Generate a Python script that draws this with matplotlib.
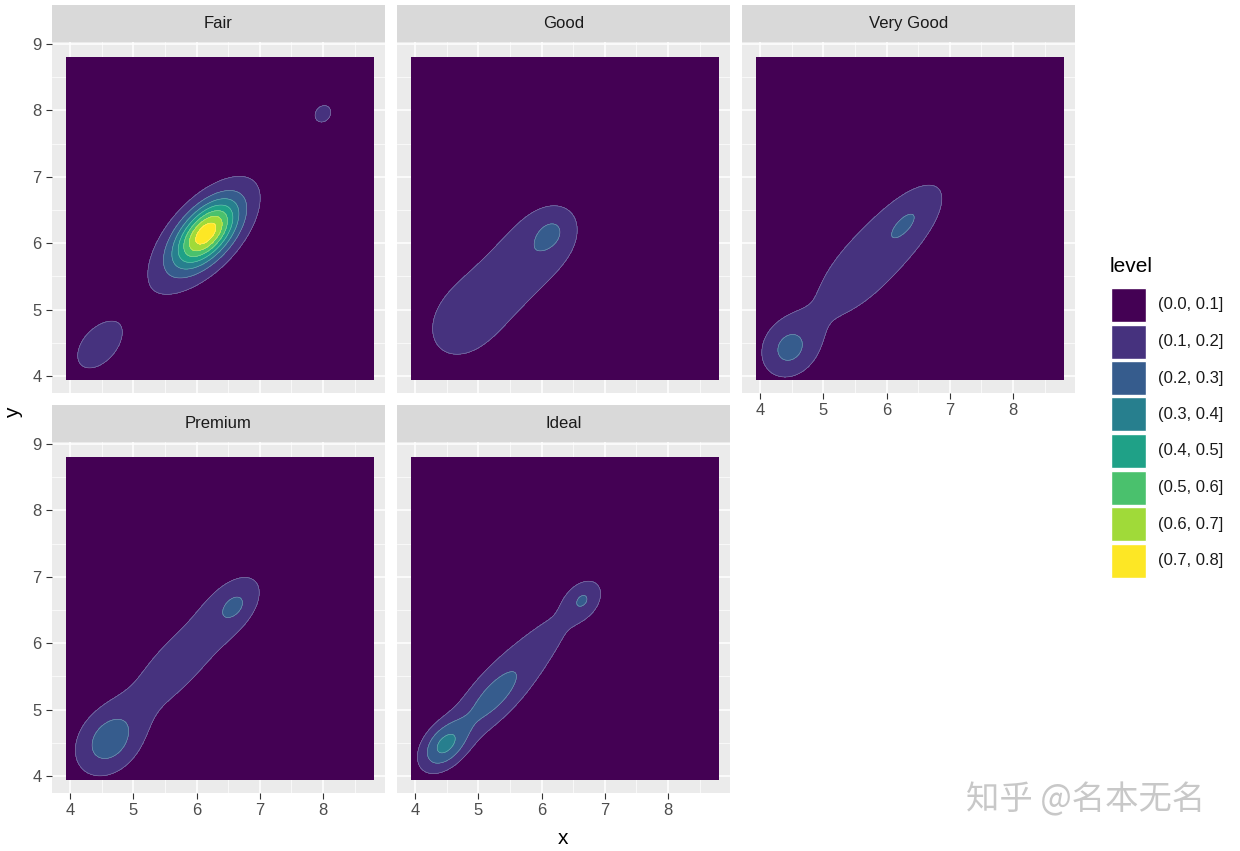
import numpy as np
import matplotlib
matplotlib.use("Agg")
import matplotlib.pyplot as plt
from matplotlib.patches import Rectangle
from matplotlib.ticker import MultipleLocator

plt.rcParams['font.family'] = ['Liberation Sans', 'DejaVu Sans', 'Noto Sans CJK SC']

cuts = ["Fair", "Good", "Very Good", "Premium", "Ideal"]
# density components per cut: centre x, centre y, sd along diagonal, sd across, peak height
comp_cx = {"Fair": [6.15, 6.1, 4.45, 8.0], "Good": [6.1, 6.15, 4.8, 5.5], "Very Good": [4.45, 6.35, 5.7],
           "Premium": [4.6, 6.6, 6.6, 5.7], "Ideal": [4.45, 5.2, 6.65, 5.8]}
comp_cy = {"Fair": [6.15, 6.1, 4.45, 7.95], "Good": [6.1, 6.15, 4.85, 5.5], "Very Good": [4.4, 6.35, 5.7],
           "Premium": [4.5, 6.6, 6.55, 5.7], "Ideal": [4.45, 5.15, 6.65, 5.8]}
comp_su = {"Fair": [0.4, 0.85, 0.4, 0.18], "Good": [0.55, 0.2, 0.6, 0.5], "Very Good": [0.32, 0.45, 1.3],
           "Premium": [0.4, 0.4, 0.15, 1.2], "Ideal": [0.3, 0.55, 0.2, 1.4]}
comp_sv = {"Fair": [0.22, 0.37, 0.25, 0.15], "Good": [0.45, 0.15, 0.45, 0.4], "Very Good": [0.28, 0.2, 0.5],
           "Premium": [0.32, 0.25, 0.1, 0.4], "Ideal": [0.2, 0.22, 0.15, 0.35]}
comp_amp = {"Fair": [0.55, 0.22, 0.16, 0.13], "Good": [0.14, 0.08, 0.16, 0.1], "Very Good": [0.18, 0.1, 0.14],
            "Premium": [0.2, 0.1, 0.06, 0.14], "Ideal": [0.26, 0.14, 0.13, 0.12]}
levels = [0.0, 0.1, 0.2, 0.3, 0.4, 0.5, 0.6, 0.7, 0.8]
level_labels = ["(0.0, 0.1]", "(0.1, 0.2]", "(0.2, 0.3]", "(0.3, 0.4]",
                "(0.4, 0.5]", "(0.5, 0.6]", "(0.6, 0.7]", "(0.7, 0.8]"]
ticks = [4, 5, 6, 7, 8, 9]

W, H = 1240, 851
fig = plt.figure(figsize=(W / 100, H / 100), dpi=100)
colors = plt.cm.viridis(np.linspace(0, 1, 8))

gx = np.linspace(3.95, 8.8, 300)
GX, GY = np.meshgrid(gx, gx)

panels = [(52, 5), (397, 5), (742, 5), (52, 405), (397, 405)]
pw, ph, sh = 333, 388, 37
for cut, (px, py) in zip(cuts, panels):
    sa = fig.add_axes([px / W, 1 - (py + sh) / H, pw / W, sh / H])
    sa.set_facecolor('#D9D9D9'); sa.set_xticks([]); sa.set_yticks([])
    for s in sa.spines.values(): s.set_visible(False)
    sa.text(0.5, 0.5, cut, ha='center', va='center', fontsize=12, color='#1A1A1A')
    ax = fig.add_axes([px / W, 1 - (py + ph) / H, pw / W, (ph - sh) / H])
    ax.set_facecolor('#EBEBEB')
    for s in ax.spines.values(): s.set_visible(False)
    ax.set_xlim(3.715, 8.98); ax.set_ylim(3.744, 9.03)
    ax.xaxis.set_major_locator(MultipleLocator(1)); ax.yaxis.set_major_locator(MultipleLocator(1))
    ax.xaxis.set_minor_locator(MultipleLocator(0.5)); ax.yaxis.set_minor_locator(MultipleLocator(0.5))
    ax.grid(True, which='major', color='white', lw=1.1)
    ax.grid(True, which='minor', color='white', lw=0.5)
    ax.set_axisbelow(True)
    Z = np.zeros_like(GX)
    for cx, cy, su, sv, a in zip(comp_cx[cut], comp_cy[cut], comp_su[cut], comp_sv[cut], comp_amp[cut]):
        u = ((GX - cx) + (GY - cy)) / np.sqrt(2)
        v = ((GY - cy) - (GX - cx)) / np.sqrt(2)
        Z += a * np.exp(-0.5 * ((u / su) ** 2 + (v / sv) ** 2))
    Z = np.clip(Z, 0.0001, 0.799)
    ax.contourf(GX, GY, Z, levels=levels, colors=colors, zorder=2)
    ax.contour(GX, GY, Z, levels=levels[1:-1], colors='white', linewidths=0.4, alpha=0.4, zorder=3)
    ax.tick_params(which='both', length=0)
    ax.tick_params(which='major', length=4, color='#333333', labelsize=12, labelcolor='#4D4D4D')
    ax.set_xticks(ticks[:-1]); ax.set_yticks(ticks)
    if px != 52:
        ax.set_yticklabels([]); ax.tick_params(axis='y', length=0)
    if cut in ("Fair", "Good"):
        ax.set_xticklabels([]); ax.tick_params(axis='x', length=0)

fig.text(563 / W, 1 - 838 / H, "x", ha='center', va='center', fontsize=15)
fig.text(14 / W, 1 - 413 / H, "y", ha='center', va='center', fontsize=15, rotation=90)

fig.text(1110 / W, 1 - 266 / H, "level", ha='left', va='center', fontsize=15)
for i, (c, lab) in enumerate(zip(colors, level_labels)):
    y0 = 288 + i * 36.5
    fig.patches.append(Rectangle((1111 / W, 1 - (y0 + 34) / H), 35 / W, 34 / H,
                                 transform=fig.transFigure, facecolor=c, edgecolor='white', lw=1))
    fig.text(1158 / W, 1 - (y0 + 17) / H, lab, ha='left', va='center', fontsize=12, color='#1A1A1A')

fig.text(1205 / W, 1 - 800 / H, "知乎 @名本无名", ha='right', va='center', fontsize=24,
         color='#C8C8C8', family=['Noto Sans CJK SC', 'DejaVu Sans'])

fig.savefig("out.png", dpi=100)
